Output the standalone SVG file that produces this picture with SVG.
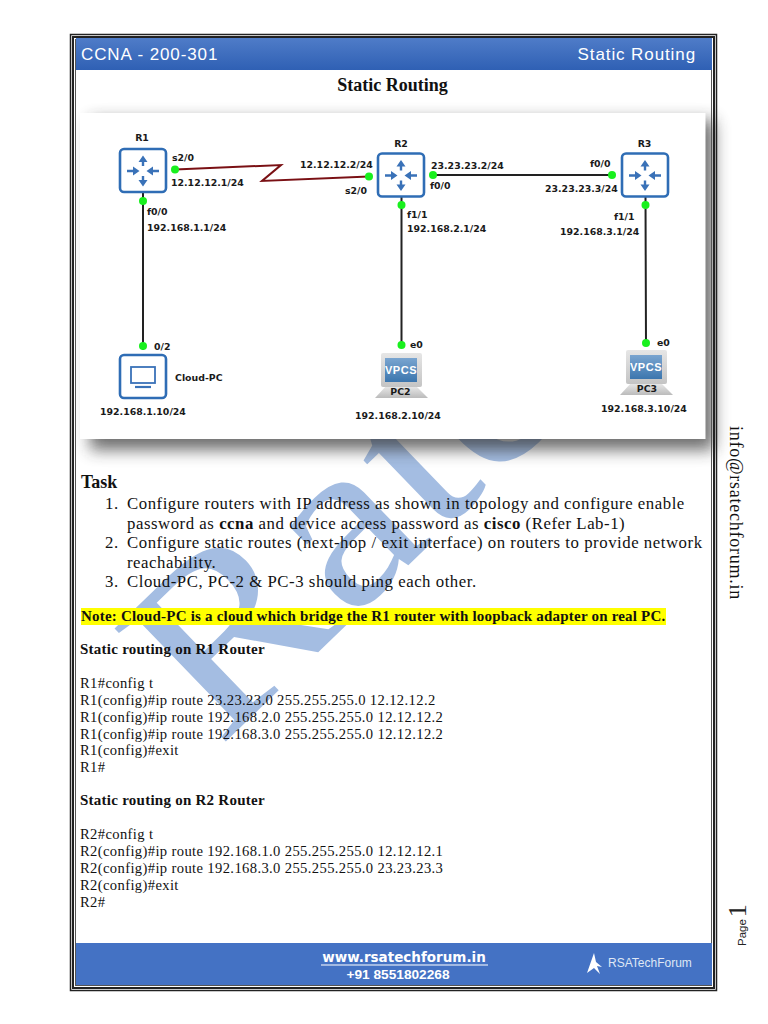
<svg xmlns="http://www.w3.org/2000/svg" width="768" height="1024" viewBox="0 0 768 1024">
<style>
.s{font-family:"Liberation Serif","Times New Roman",serif;fill:#111}
.b{font-weight:700}
.t{font-size:16.800px;letter-spacing:.53px}
.c{font-size:14.600px;letter-spacing:.37px}
.n{font-family:"DejaVu Sans",sans-serif;font-size:9.400px;font-weight:700;fill:#1a1a1a}
.h{font-family:"Liberation Sans",Arial,sans-serif;font-size:17px;fill:#fff;letter-spacing:.9px}
.box{fill:#fff;stroke:#2f6db5;stroke-width:2.600}
.ar{fill:none;stroke:#3a72b8;stroke-width:2.400}
.arh{fill:#3a72b8}
.dot{fill:#19f01e}
.lnk{fill:none;stroke:#222;stroke-width:2}
.vp{font-family:"Liberation Sans",sans-serif;font-size:11px;font-weight:700;fill:#fff;letter-spacing:.5px}
</style>
<defs>
<linearGradient id="hd" x1="0" y1="0" x2="0" y2="1"><stop offset="0" stop-color="#4f7cc8"/><stop offset="1" stop-color="#2f60b4"/></linearGradient>
<linearGradient id="pc" x1="0" y1="0" x2="0" y2="1"><stop offset="0" stop-color="#e6e6e6"/><stop offset="1" stop-color="#c4c4c4"/></linearGradient>
<linearGradient id="bs" x1="0" y1="0" x2="0" y2="1"><stop offset="0" stop-color="#eee"/><stop offset="1" stop-color="#bbb"/></linearGradient>
<linearGradient id="sc" x1="0" y1="0" x2="0" y2="1"><stop offset="0" stop-color="#7aa5d0"/><stop offset="1" stop-color="#3c76ae"/></linearGradient>
<filter id="sh" x="-10%" y="-15%" width="125%" height="135%"><feGaussianBlur stdDeviation="8"/></filter>
<g id="arrows">
<path class="ar" d="M0-10V-5M0 5V10M-16 0H-8M16 0H8"/>
<path class="arh" d="M0-15.500L-4.500-9H4.500ZM0 15.500L-4.500 9H4.500ZM-3.500 0L-10-4.500V4.500ZM3.500 0L10-4.500V4.500Z"/>
</g>
<g id="vpcs">
<path fill="url(#bs)" d="M-14 0H14L27 13H-26Z"/>
<rect x="-20" y="-32" width="41" height="34" rx="2" fill="url(#pc)"/>
<rect x="-16" y="-27" width="32" height="24" fill="url(#sc)"/>
<text class="vp" x="0" y="-11" text-anchor="middle">VPCS</text>
</g>
</defs>
<rect width="768" height="1024" fill="#fff"/>

<g id="watermark">
<text transform="translate(219 748) rotate(-44) scale(1.12 1)" font-family="Liberation Serif,serif" font-size="242" fill="#a4bde2">Rate</text>
</g>

<g id="topology-panel">
<rect x="90" y="120" width="624" height="330" fill="#333" opacity=".7" filter="url(#sh)"/>
<rect x="80" y="113" width="625.500" height="326" fill="#fff"/>
</g>

<g id="page-frame" fill="none">
<rect x="70.500" y="34.500" width="646" height="956" stroke="#222" stroke-width="1.500"/>
<rect x="73" y="37" width="641" height="951" stroke="#222" stroke-width="2"/>
<rect x="75.500" y="39.500" width="636" height="946" stroke="#555" stroke-width="1"/>
</g>
<g id="header">
<rect x="76" y="38" width="636" height="32" fill="url(#hd)"/>
<text class="h" x="81" y="60">CCNA - 200-301</text>
<text class="h" x="696" y="60" text-anchor="end">Static Routing</text>
</g>
<text class="s b" x="392.500" y="91" font-size="18" text-anchor="middle">Static Routing</text>

<g id="connectors">
<path fill="none" stroke="#7a1014" stroke-width="2" d="M175 169.500L281 165 262 181 369 176.500"/>
<path class="lnk" d="M433 175H612M143 190V350M401.500 195V346M645.500 195L646 346"/>
</g>
<g id="R1"><rect class="box" x="120" y="149" width="46" height="43" rx="4"/><use href="#arrows" x="143" y="171"/><text class="n" x="142" y="141" text-anchor="middle">R1</text></g>
<g id="R2"><rect class="box" x="378" y="153.500" width="46" height="43" rx="4"/><use href="#arrows" x="401" y="175.500"/><text class="n" x="401" y="147" text-anchor="middle">R2</text></g>
<g id="R3"><rect class="box" x="622" y="153.500" width="46" height="43" rx="4"/><use href="#arrows" x="645" y="175.500"/><text class="n" x="644.500" y="147" text-anchor="middle">R3</text></g>
<g id="Cloud-PC"><rect class="box" x="120" y="355" width="46" height="43" rx="4"/><rect x="131" y="367" width="24" height="16" fill="none" stroke="#3a72b8" stroke-width="1.800"/><path d="M135 387H151" stroke="#3a72b8" stroke-width="2.200"/><text class="n" x="175" y="381" font-size="9">Cloud-PC</text></g>
<g id="PC2"><use href="#vpcs" x="401" y="385"/><text class="n" x="400.500" y="395" text-anchor="middle">PC2</text></g>
<g id="PC3"><use href="#vpcs" x="646" y="382"/><text class="n" x="647" y="392" text-anchor="middle">PC3</text></g>

<g id="ports" class="dot">
<circle cx="175" cy="169.500" r="4"/><circle cx="369" cy="176.500" r="4"/><circle cx="433" cy="175" r="4"/><circle cx="612" cy="175" r="4"/>
<circle cx="143" cy="201" r="4"/><circle cx="401.500" cy="205" r="4"/><circle cx="645.500" cy="205" r="4"/>
<circle cx="143" cy="346" r="4"/><circle cx="401.500" cy="345" r="4"/><circle cx="646" cy="343" r="4"/>
</g>
<g id="labels" class="n">
<text x="172" y="161">s2/0</text><text x="171" y="186">12.12.12.1/24</text>
<text x="300" y="168">12.12.12.2/24</text><text x="345" y="194">s2/0</text>
<text x="431" y="169">23.23.23.2/24</text><text x="430" y="189">f0/0</text>
<text x="590" y="167">f0/0</text><text x="545" y="192">23.23.23.3/24</text>
<text x="147" y="215">f0/0</text><text x="147" y="231">192.168.1.1/24</text>
<text x="407" y="218">f1/1</text><text x="407" y="232">192.168.2.1/24</text>
<text x="614" y="220">f1/1</text><text x="560" y="235">192.168.3.1/24</text>
<text x="154" y="350">0/2</text><text x="410" y="348">e0</text><text x="657" y="346">e0</text>
<text x="100" y="415">192.168.1.10/24</text><text x="355" y="419">192.168.2.10/24</text><text x="601" y="412">192.168.3.10/24</text>
</g>

<g id="task">
<text class="s b" x="81" y="488" font-size="18">Task</text>
<g class="s t">
<text x="105" y="509">1.</text><text x="127" y="509">Configure routers with IP address as shown in topology and configure enable</text>
<text x="127" y="528.500">password as <tspan class="b">ccna</tspan> and device access password as <tspan class="b">cisco</tspan> (Refer Lab-1)</text>
<text x="105" y="548">2.</text><text x="127" y="548">Configure static routes (next-hop / exit interface) on routers to provide network</text>
<text x="127" y="567.500">reachability.</text>
<text x="105" y="587">3.</text><text x="127" y="587">Cloud-PC, PC-2 &amp; PC-3 should ping each other.</text>
</g>
</g>
<g id="note">
<rect x="81" y="608" width="585" height="17" fill="#ffff00"/>
<text class="s b" x="81" y="621" font-size="15" letter-spacing=".2">Note: Cloud-PC is a cloud which bridge the R1 router with loopback adapter on real PC.</text>
</g>
<g id="config" class="s c">
<text class="b" x="80" y="654" style="letter-spacing:.25px;font-size:15px">Static routing on R1 Router</text>
<text x="80" y="688">R1#config t</text>
<text x="80" y="705">R1(config)#ip route 23.23.23.0 255.255.255.0 12.12.12.2</text>
<text x="80" y="722">R1(config)#ip route 192.168.2.0 255.255.255.0 12.12.12.2</text>
<text x="80" y="739">R1(config)#ip route 192.168.3.0 255.255.255.0 12.12.12.2</text>
<text x="80" y="755">R1(config)#exit</text>
<text x="80" y="772">R1#</text>
<text class="b" x="80" y="805" style="letter-spacing:.25px;font-size:15px">Static routing on R2 Router</text>
<text x="80" y="839">R2#config t</text>
<text x="80" y="856">R2(config)#ip route 192.168.1.0 255.255.255.0 12.12.12.1</text>
<text x="80" y="873">R2(config)#ip route 192.168.3.0 255.255.255.0 23.23.23.3</text>
<text x="80" y="890">R2(config)#exit</text>
<text x="80" y="907">R2#</text>
</g>

<g id="footer">
<rect x="76" y="943" width="636" height="42" fill="#4472c4"/>
<text x="404" y="962" font-family="DejaVu Sans,sans-serif" font-size="13.500" font-weight="700" fill="#fff" text-anchor="middle">www.rsatechforum.in</text>
<path d="M321 965H488" stroke="#fff" stroke-width="1.200"/>
<text x="398" y="979" font-family="Liberation Sans,sans-serif" font-size="13.700" font-weight="700" fill="#fff" text-anchor="middle">+91 8551802268</text>
<path d="M587 973L594 953 596 962 602 967 597 966 600 974 594 968Z" fill="#fff"/>
<text x="608" y="967" font-family="Liberation Sans,sans-serif" font-size="12" fill="#dfe7f5">RSATechForum</text>
</g>
<text transform="translate(730 426) rotate(90)" font-family="Liberation Serif,serif" font-size="18" letter-spacing=".75" fill="#111">info@rsatechforum.in</text>
<text transform="translate(746 946) rotate(-90)" font-family="Liberation Sans,sans-serif" font-size="11.500" fill="#222">Page<tspan font-family="Liberation Serif,serif" font-size="26" dx="2">1</tspan></text>
</svg>
